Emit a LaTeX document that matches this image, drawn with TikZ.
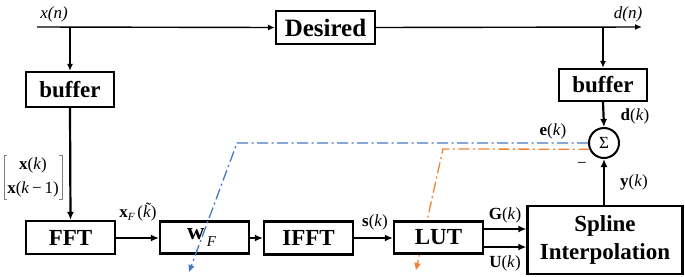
\documentclass[tikz,border=0pt]{standalone}
\usepackage{fontspec}
\setmainfont{Liberation Serif}
\usetikzlibrary{arrows.meta}
\definecolor{myblue}{RGB}{70,120,196}
\definecolor{myorange}{RGB}{240,130,50}
\begin{document}
\begin{tikzpicture}[x=1pt,y=-1pt,
  blk/.style={draw,line width=2.2pt,fill=white,inner sep=0pt,font=\fontsize{23}{26}\selectfont\bfseries},
  lbl/.style={font=\fontsize{17}{19}\selectfont,inner sep=0pt},
  arr/.style={line width=2.2pt,-{Latex[length=8pt,width=7pt]}},
  thinarr/.style={line width=1.4pt,-{Latex[length=7pt,width=6pt]}},
  bluedd/.style={myblue,line width=1.3pt,dash pattern=on 11pt off 3.5pt on 2pt off 3.5pt,-{Triangle[length=7pt,width=6pt]}},
  orangedd/.style={myorange,line width=1.3pt,dash pattern=on 11pt off 3.5pt on 2pt off 3.5pt,-{Triangle[length=7pt,width=6pt]}},
  brk/.style={gray,line width=0.7pt}]
\useasboundingbox (0,0) rectangle (685,276);

% summing junction
\node[draw,circle,line width=2pt,minimum size=30pt,inner sep=0pt,font=\fontsize{17}{19}\selectfont] (sum) at (604,143) {Σ};

% orange error path (behind LUT)
\coordinate (oc) at (443,149);
\coordinate (oend) at (416,270);
\draw[orangedd] (sum.203) -- (oc) -- (oend);

% blocks
\node[blk,minimum width=99pt,minimum height=33pt,font=\fontsize{25}{27}\selectfont\bfseries] (des) at (325.5,27.5) {Desired};
\node[blk,minimum width=88pt,minimum height=35pt] (buf1) at (70,89.5) {buffer};
\node[blk,minimum width=88pt,minimum height=32pt] (buf2) at (603,85) {buffer};
\node[blk,minimum width=89pt,minimum height=33pt] (fft) at (70.5,237.5) {FFT};
\node[blk,minimum width=89pt,minimum height=32pt] (wf) at (204.5,237.5) {\hspace*{-6pt}\fontsize{24}{26}\selectfont w\raisebox{-7pt}{\normalfont\itshape\fontsize{15}{17}\selectfont\,F}};
\node[blk,minimum width=89pt,minimum height=33pt] (ifft) at (308.5,238) {IFFT};
\node[blk,minimum width=89pt,minimum height=32pt] (lut) at (438.5,237.5) {LUT};
\node[blk,minimum width=155pt,minimum height=68pt,align=center,font=\fontsize{23}{28}\selectfont\bfseries] (spl) at (605,240) {Spline\\Interpolation};

% top signal line
\coordinate (xin) at (37,27);
\coordinate (dout) at (642,27);
\coordinate (br1) at (70,27);
\coordinate (br2) at (603,27);
\draw[thinarr] (xin) -- (des.west);
\draw[thinarr] (des.east) -- (dout);
\draw[thinarr] (br1) -- (buf1.north);
\draw[thinarr] (br2) -- (buf2.north);

% main chain
\draw[arr] (buf1.south) -- (fft.north);
\draw[arr] (buf2.south) -- (sum.north);
\draw[arr] (fft.east |- 0,238) -- (wf.west |- 0,238);
\draw[arr] (wf.east |- 0,238) -- (ifft.west |- 0,238);
\draw[arr] (ifft.east |- 0,238) -- (lut.west |- 0,238);
\draw[arr] (lut.east |- 0,229) -- (spl.west |- 0,229);
\draw[arr] (lut.east |- 0,247) -- (spl.west |- 0,247);
\draw[arr] (spl.north -| sum) -- (sum.south);

% blue error path (over W_F)
\coordinate (bc) at (237,143);
\coordinate (bend) at (189,272);
\draw[bluedd] (sum.west) -- (bc) -- (bend);

% labels
\node[lbl] (lxn) at (54,14) {\itshape x(n)};
\node[lbl] (ldn) at (628,14) {\itshape d(n)};
\node[lbl] (ldk) at (635,116) {\textbf{d}(\textit{k})};
\node[lbl] (lek) at (553,131) {\textbf{e}(\textit{k})};
\node[lbl] (lminus) at (582,165) {−};
\node[lbl] (lyk) at (634,182) {\textbf{y}(\textit{k})};
\node[lbl] (lgk) at (505,215) {\textbf{G}(\textit{k})};
\node[lbl] (luk) at (505,263) {\textbf{U}(\textit{k})};
\node[lbl] (lsk) at (375,222) {\textbf{s}(\textit{k})};
\node[lbl] (lxf) at (138,212) {\textbf{x}\raisebox{-3pt}{\fontsize{11}{12}\selectfont\itshape F}\,(\textit{\makebox[0pt][l]{\hspace{1.5pt}\raisebox{3pt}{\char"02DC}}k})};
\node[lbl] (lxk) at (33,165) {\textbf{x}(\textit{k})};
\node[lbl] (lxk1) at (33,189) {\textbf{x}(\textit{k}\,−\,1)};
\draw[brk] (7,155) -- (4,155) -- (4,199) -- (7,199);
\draw[brk] (59,155) -- (62,155) -- (62,199) -- (59,199);
\end{tikzpicture}
\end{document}
